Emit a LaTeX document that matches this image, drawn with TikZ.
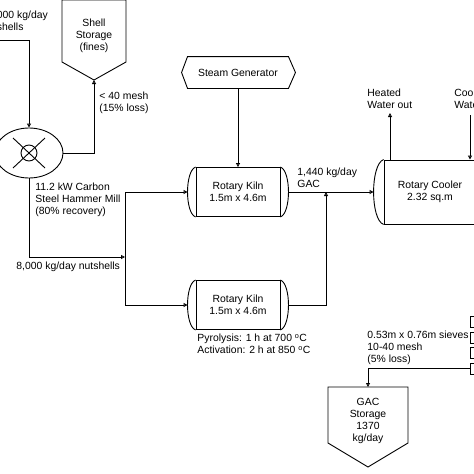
\documentclass[tikz,border=0pt]{standalone}
\usepackage{fontspec}
\setmainfont{Liberation Sans}
\usetikzlibrary{arrows.meta,shapes.geometric}

\begin{document}
\begin{tikzpicture}[x=1pt,y=-1pt,line width=0.9pt,
    font=\fontsize{10.4}{12}\selectfont,
    flow/.style={-{Triangle[open,length=4pt,width=4pt]}},
    lbl/.style={align=left,anchor=west,inner sep=0pt},
    unit/.style={rectangle,align=center,inner sep=0pt},
    kiln/.style={unit,draw,minimum width=84pt,minimum height=49pt}]
    \useasboundingbox (0,0) rectangle (474,474);
    \clip (0,0) rectangle (474,474);

    % Hammer mill
    \node[ellipse,draw,minimum width=68pt,minimum height=50pt,inner sep=0pt] (mill) at (29,153) {};
    \draw (mill.center) circle[radius=8pt];
    \draw ([shift={(-16,-15)}]mill.center) -- ([shift={(16,15)}]mill.center);
    \draw ([shift={(16,-15)}]mill.center) -- ([shift={(-16,15)}]mill.center);
    \node[lbl] (milllbl) at (35,200) {11.2 kW Carbon\\Steel Hammer Mill\\(80\% recovery)};

    % Shell storage (fines)
    \node[unit] (shell) at (94,36) {Shell\\Storage\\(fines)};
    \draw (62,0) -- (62,62) -- (94,80) -- (126,62) -- (126,0) -- cycle;
    \coordinate (shellin) at (94,80);
    \node[lbl] (finelbl) at (99,102.5) {< 40 mesh\\(15\% loss)};

    % Steam generator
    \node[unit,minimum width=100pt,minimum height=31pt] (steam) at (238,72.5) {Steam Generator};
    \draw (steam.north west) -- (steam.north east) -- ([xshift=7pt]steam.east)
        -- (steam.south east) -- (steam.south west) -- ([xshift=-6pt]steam.west) -- cycle;

    % Rotary kilns
    \node[kiln] (kiln1) at (238,192) {Rotary Kiln\\1.5m x 4.6m};
    \node[kiln] (kiln2) at (238,305) {Rotary Kiln\\1.5m x 4.6m};
    \foreach \k in {kiln1,kiln2} {
        \draw (\k.north west) .. controls +(-10.7,4) and +(-10.7,-4) .. (\k.south west);
        \draw (\k.north east) .. controls +(10.7,4) and +(10.7,-4) .. (\k.south east);
    }
    \node[lbl] (kilnlbl) at (197,344) {Pyrolysis: 1 h at 700 \textsuperscript{o}C\\Activation: 2 h at 850 \textsuperscript{o}C};

    % Rotary cooler
    \node[unit,draw,minimum width=92pt,minimum height=64pt] (cooler) at (430,192) {Rotary Cooler\\2.32 sq.m};
    \draw (cooler.north west) .. controls +(-13.3,5) and +(-13.3,-5) .. (cooler.south west);

    % Sieves
    \foreach \i in {1,...,4}
        \node[draw,anchor=west,inner sep=0pt,minimum width=20pt,minimum height=11pt] (sieve\i) at (470,{306.5+15.5*\i}) {};
    \node[lbl] (sievelbl) at (367,348) {0.53m x 0.76m sieves\\10-40 mesh\\(5\% loss)};

    % GAC storage
    \node[unit] (gac) at (368,421) {GAC\\Storage\\1370\\kg/day};
    \draw (328,387) -- (328,443) -- (368,467) -- (408,443) -- (408,387) -- cycle;
    \coordinate (gacin) at (368,387);

    % Feed and product streams
    \coordinate (feedin) at (-5,40);
    \node[lbl] (feedlbl) at (-18,21) {10,000 kg/day\\nutshells};
    \draw[flow] (feedin) -| (mill.north);
    \draw[flow] (mill.east) -| (shellin);
    \coordinate (split) at (125,257);
    \draw[flow] (mill.south) |- (split);
    \node[lbl] (nutlbl) at (16,267) {8,000 kg/day nutshells};
    \draw[flow] (split) |- ([xshift=-8pt]kiln1.west);
    \draw[flow] (split) |- ([xshift=-8pt]kiln2.west);
    \draw[flow] (steam.south) -- (kiln1.north);
    \draw[flow] ([xshift=8pt]kiln1.east) -- ([xshift=-10pt]cooler.west);
    \node[lbl] (gaclbl) at (297,177.5) {1,440 kg/day\\GAC};
    \coordinate (join) at (326,192);
    \draw[flow] ([xshift=8pt]kiln2.east) -| (join);

    % Cooling water
    \coordinate (hotout) at (390,113);
    \draw[flow] (hotout |- cooler.north) -- (hotout);
    \node[lbl] (hotlbl) at (367,98.5) {Heated\\Water out};
    \coordinate (coldin) at (470,115);
    \draw[flow] (coldin) -- (coldin |- cooler.north);
    \node[lbl] (coldlbl) at (454,98.5) {Cooling\\Water in};

    % Screened product
    \draw[flow] (sieve4.west) -| (gacin);
\end{tikzpicture}
\end{document}
